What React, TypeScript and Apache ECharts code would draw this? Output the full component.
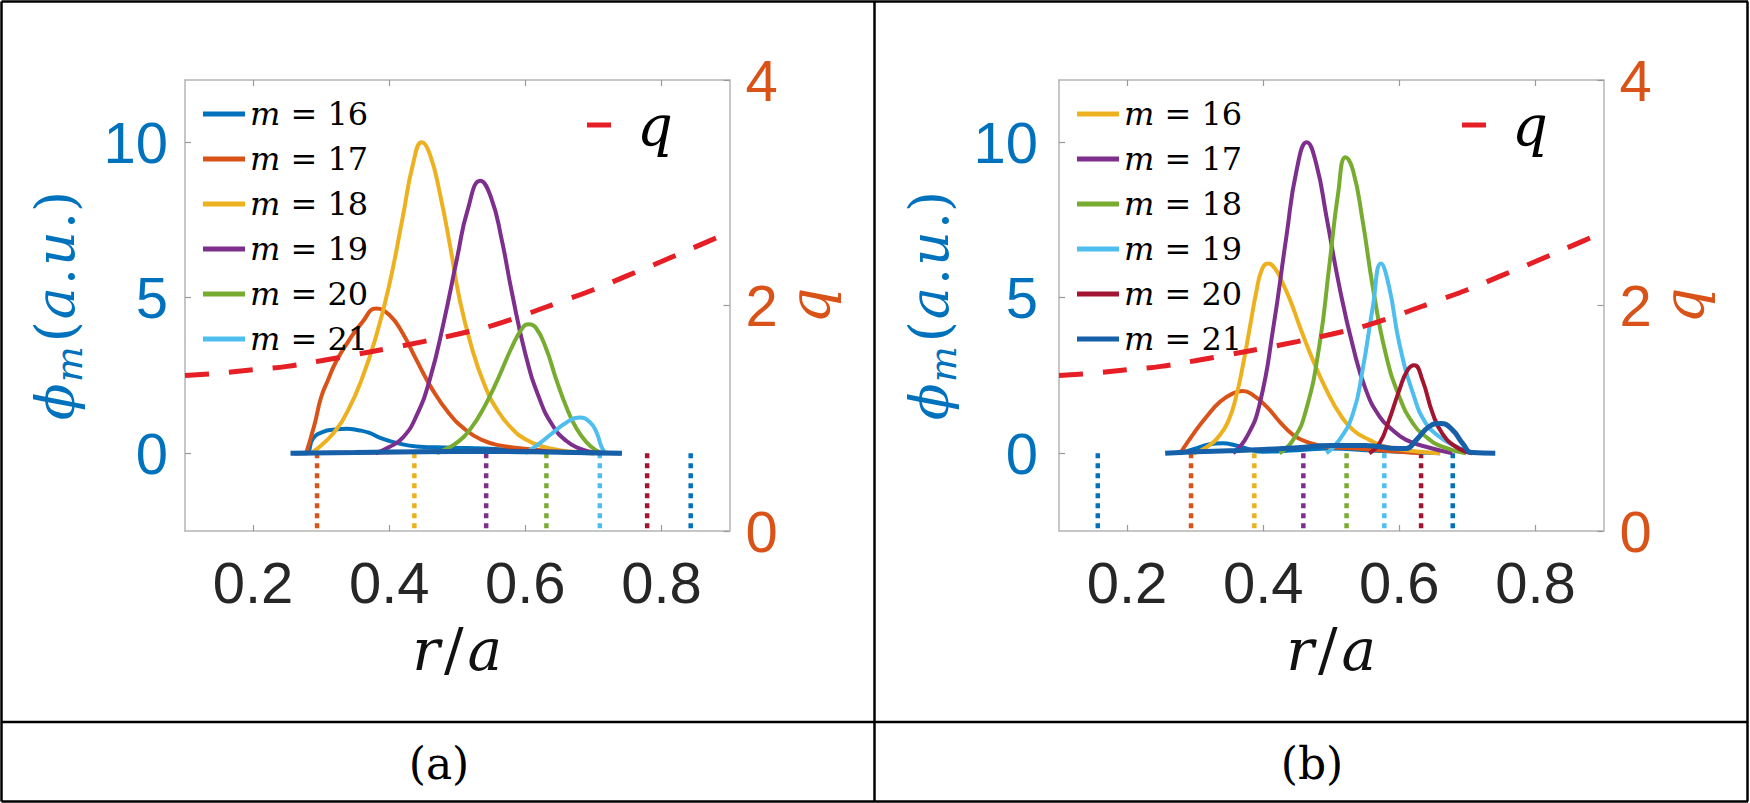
import React, { useEffect, useRef } from "react";
import * as echarts from "echarts";

// ---------- axes ----------
const X_MIN = 0.1;
const X_MAX = 0.9;
const X_TICKS = [0.2, 0.4, 0.6, 0.8];
const PHI_MIN = -2.5;
const PHI_MAX = 12;
const PHI_TICKS = [0, 5, 10];
const Q_MIN = 0;
const Q_MAX = 4;
const Q_INTERVAL = 2;

// ---------- q profile (right axis) ----------
const qProfile = [
  [0.1, 1.38], [0.15, 1.4], [0.2, 1.43], [0.25, 1.46], [0.3, 1.51], [0.35, 1.565],
  [0.4, 1.62], [0.45, 1.68], [0.5, 1.745], [0.55, 1.82], [0.6, 1.92], [0.65, 2.03],
  [0.7, 2.14], [0.75, 2.265], [0.8, 2.39], [0.85, 2.52], [0.9, 2.65],
];

// ---------- panel (a) ----------
const a_m16 = [
  [0.26, 0], [0.278, 0], [0.288, 0.47], [0.303, 0.69], [0.32, 0.76], [0.337, 0.79],
  [0.355, 0.74], [0.37, 0.66], [0.39, 0.47], [0.415, 0.31], [0.44, 0.22], [0.49, 0.18],
  [0.54, 0.15], [0.59, 0.1], [0.64, 0.05], [0.7, 0], [0.74, 0],
];
const a_m17 = [
  [0.278, 0], [0.29, 0.9], [0.3, 1.8], [0.31, 2.35], [0.322, 2.95], [0.34, 3.6],
  [0.36, 4.2], [0.381, 4.65], [0.4, 4.45], [0.42, 3.85], [0.44, 3.0], [0.464, 2.03],
  [0.488, 1.28], [0.513, 0.74], [0.537, 0.42], [0.56, 0.26], [0.61, 0.12], [0.66, 0.04], [0.7, 0],
];
const a_m18 = [
  [0.285, 0], [0.3, 0.25], [0.32, 0.7], [0.34, 1.4], [0.36, 2.4], [0.38, 3.7],
  [0.4, 5.4], [0.42, 7.6], [0.435, 9.3], [0.448, 10.0], [0.46, 9.6], [0.475, 8.3],
  [0.49, 6.6], [0.503, 5.0], [0.52, 3.5], [0.54, 2.2], [0.56, 1.35], [0.58, 0.8],
  [0.6, 0.45], [0.625, 0.22], [0.65, 0.1], [0.68, 0.03], [0.7, 0],
];
const a_m19 = [
  [0.38, 0], [0.4, 0.2], [0.42, 0.5], [0.44, 1.2], [0.46, 2.4], [0.48, 4.2],
  [0.5, 6.3], [0.515, 7.8], [0.534, 8.76], [0.55, 8.2], [0.565, 6.9], [0.58, 5.2],
  [0.6, 3.2], [0.62, 1.8], [0.64, 0.9], [0.66, 0.4], [0.68, 0.15], [0.7, 0.03], [0.71, 0],
];
const a_m20 = [
  [0.47, 0], [0.48, 0.1], [0.5, 0.35], [0.52, 0.8], [0.54, 1.5], [0.56, 2.4],
  [0.58, 3.4], [0.595, 4.0], [0.605, 4.15], [0.615, 4.05], [0.63, 3.4], [0.645, 2.4],
  [0.66, 1.5], [0.675, 0.8], [0.69, 0.35], [0.705, 0.08], [0.715, 0],
];
const a_m21 = [
  [0.6, 0], [0.62, 0.3], [0.64, 0.65], [0.66, 0.98], [0.679, 1.15], [0.695, 1.0],
  [0.705, 0.65], [0.712, 0.2], [0.718, 0],
];
const a_m22 = [[0.26, 0], [0.4, 0.03], [0.55, 0.08], [0.65, 0.05], [0.74, 0]];
const a_m23 = [[0.255, 0], [0.35, 0.02], [0.45, 0.05], [0.55, 0.06], [0.65, 0.03], [0.742, 0]];
const a_rational = [0.294, 0.437, 0.5425, 0.631, 0.7095, 0.779, 0.843];

// ---------- panel (b) ----------
const b_m14 = [
  [0.278, 0], [0.3, 0.15], [0.32, 0.28], [0.34, 0.32], [0.36, 0.25], [0.38, 0.12],
  [0.4, 0.05], [0.45, 0.1], [0.5, 0.15], [0.55, 0.1], [0.6, 0.05], [0.66, 0],
];
const b_m15 = [
  [0.278, 0], [0.298, 0.64], [0.317, 1.18], [0.337, 1.66], [0.356, 1.93], [0.37, 2.0],
  [0.385, 1.87], [0.405, 1.5], [0.424, 1.02], [0.444, 0.59], [0.463, 0.37], [0.493, 0.21],
  [0.532, 0.16], [0.58, 0.08], [0.63, 0],
];
const b_m16 = [
  [0.298, 0], [0.317, 0.2], [0.337, 0.6], [0.35, 1.1], [0.36, 1.8], [0.37, 2.8],
  [0.38, 4.0], [0.39, 5.2], [0.398, 5.9], [0.407, 6.1], [0.417, 5.95], [0.428, 5.5],
  [0.44, 4.9], [0.454, 4.06], [0.473, 3.0], [0.493, 2.03], [0.512, 1.28], [0.532, 0.75],
  [0.556, 0.43], [0.58, 0.21], [0.63, 0.05], [0.66, 0],
];
const b_m17 = [
  [0.356, 0], [0.376, 0.53], [0.395, 1.6], [0.415, 4.06], [0.434, 6.95], [0.449, 9.09],
  [0.464, 10.0], [0.478, 9.3], [0.493, 7.6], [0.512, 5.35], [0.532, 3.42], [0.551, 2.03],
  [0.571, 1.18], [0.59, 0.75], [0.61, 0.43], [0.639, 0.21], [0.678, 0],
];
const b_m18 = [
  [0.424, 0], [0.444, 0.43], [0.463, 1.39], [0.483, 3.53], [0.497, 6.0], [0.51, 8.34],
  [0.521, 9.52], [0.532, 9.09], [0.546, 7.49], [0.561, 5.35], [0.58, 3.2], [0.6, 1.82],
  [0.62, 0.96], [0.639, 0.53], [0.663, 0.21], [0.698, 0],
];
const b_m19 = [
  [0.493, 0], [0.512, 0.43], [0.532, 1.28], [0.546, 2.67], [0.561, 4.7], [0.573, 6.1],
  [0.585, 5.35], [0.6, 3.53], [0.62, 1.93], [0.639, 0.96], [0.659, 0.53], [0.678, 0.27], [0.707, 0],
];
const b_m20 = [
  [0.556, 0], [0.571, 0.32], [0.585, 1.07], [0.6, 2.03], [0.612, 2.67], [0.622, 2.83],
  [0.634, 2.35], [0.649, 1.28], [0.663, 0.64], [0.683, 0.21], [0.707, 0],
];
const b_m21 = [
  [0.256, 0], [0.3, 0.05], [0.35, 0.08], [0.4, 0.12], [0.45, 0.18], [0.5, 0.25],
  [0.55, 0.25], [0.6, 0.15], [0.61, 0.15], [0.625, 0.43], [0.644, 0.86], [0.661, 0.96],
  [0.678, 0.75], [0.693, 0.32], [0.707, 0.02], [0.741, 0],
];
const b_rational = [0.157, 0.294, 0.387, 0.459, 0.5225, 0.578, 0.632, 0.6785];

// ---------- colours ----------
const BLUE = "#0072BD";
const DBLUE = "#1560A8";
const ORANGE = "#D95319";
const YELLOW = "#EDB120";
const PURPLE = "#7E2F8E";
const GREEN = "#77AC30";
const CYAN = "#4DBEEE";
const DRED = "#A2142F";
const QRED = "#E61E25";
const BOX = "#b4b4b4";

const a_rationalColors = [ORANGE, YELLOW, PURPLE, GREEN, CYAN, DRED, BLUE];
const b_rationalColors = [BLUE, ORANGE, YELLOW, PURPLE, GREEN, CYAN, DRED, BLUE];

const SERIF = "DejaVu Serif";
const SANS = "Liberation Sans";

type Curve = { m: number; data: number[][]; color: string; legend: boolean; width?: number };

const panelA: Curve[] = [
  { m: 16, data: a_m16, color: BLUE, legend: true },
  { m: 17, data: a_m17, color: ORANGE, legend: true },
  { m: 18, data: a_m18, color: YELLOW, legend: true },
  { m: 19, data: a_m19, color: PURPLE, legend: true },
  { m: 20, data: a_m20, color: GREEN, legend: true },
  { m: 21, data: a_m21, color: CYAN, legend: true },
  { m: 22, data: a_m22, color: DRED, legend: false },
  { m: 23, data: a_m23, color: DBLUE, legend: false, width: 5 },
];
const panelB: Curve[] = [
  { m: 14, data: b_m14, color: BLUE, legend: false },
  { m: 15, data: b_m15, color: ORANGE, legend: false },
  { m: 16, data: b_m16, color: YELLOW, legend: true },
  { m: 17, data: b_m17, color: PURPLE, legend: true },
  { m: 18, data: b_m18, color: GREEN, legend: true },
  { m: 19, data: b_m19, color: CYAN, legend: true },
  { m: 20, data: b_m20, color: DRED, legend: true },
  { m: 21, data: b_m21, color: DBLUE, legend: true, width: 5 },
];

function buildPanel(
  p: string,
  curves: Curve[],
  rational: number[],
  rationalColors: string[],
  xi: number,
  yl: number,
  yr: number
) {
  const series: any[] = [];
  rational.forEach((x, i) => {
    series.push({
      type: "line",
      name: `${p}:rs${i}`,
      xAxisIndex: xi,
      yAxisIndex: yl,
      data: [[x, 0], [x, PHI_MIN]],
      symbol: "none",
      silent: true,
      lineStyle: { color: rationalColors[i], width: 4.5, type: [5, 5], cap: "butt" },
      itemStyle: { color: rationalColors[i] },
      z: 2,
    });
  });
  curves.forEach((c) => {
    series.push({
      type: "line",
      name: `${p}: m = ${c.m}`,
      xAxisIndex: xi,
      yAxisIndex: yl,
      data: c.data,
      symbol: "none",
      showSymbol: false,
      smooth: 0.5,
      silent: true,
      lineStyle: { color: c.color, width: c.width ?? 4 },
      itemStyle: { color: c.color },
      z: 3,
    });
  });
  series.push({
    type: "line",
    name: `${p}: q`,
    xAxisIndex: xi,
    yAxisIndex: yr,
    data: qProfile,
    symbol: "none",
    showSymbol: false,
    smooth: 0.4,
    silent: true,
    lineStyle: { color: QRED, width: 5, type: [24, 20] },
    itemStyle: { color: QRED },
    z: 4,
  });
  const legendNames = curves.filter((c) => c.legend).map((c) => `${p}: m = ${c.m}`);
  return { series, legendNames };
}

const legendFormatter = (name: string) => {
  const t = name.slice(3);
  if (t === "q") return "{q|q}";
  const num = t.split("= ")[1];
  return "{i|m}{r| = " + num + "}";
};

function xAxes(gridIndex: number) {
  const common = {
    type: "value",
    gridIndex,
    min: X_MIN,
    max: X_MAX,
    splitLine: { show: false },
    axisLine: { show: true, onZero: false, lineStyle: { color: BOX, width: 1.5 } },
    axisTick: { show: true, inside: true, length: 6, customValues: X_TICKS, lineStyle: { color: "#999", width: 1.2 } },
  };
  return [
    {
      ...common,
      position: "bottom",
      axisLabel: {
        show: true,
        customValues: X_TICKS,
        margin: 22,
        color: "#262626",
        fontSize: 58,
        fontFamily: SANS,
        formatter: (v: number) => v.toFixed(1),
      },
      name: "{i|r}{n|/}{i|a}",
      nameLocation: "middle",
      nameGap: 90,
      nameTextStyle: {
        color: "#111",
        fontSize: 58,
        fontFamily: SERIF,
        rich: {
          i: { fontStyle: "italic", fontSize: 58, fontFamily: SERIF, color: "#111" },
          n: { fontSize: 58, fontFamily: SERIF, color: "#111", padding: [0, 4] },
        },
      },
    },
    { ...common, position: "top", axisLabel: { show: false } },
  ];
}

function yAxes(gridIndex: number, leftMargin: number) {
  return [
    {
      type: "value",
      gridIndex,
      position: "left",
      min: PHI_MIN,
      max: PHI_MAX,
      splitLine: { show: false },
      axisLine: { show: true, onZero: false, lineStyle: { color: BOX, width: 1.5 } },
      axisTick: { show: true, inside: true, length: 6, customValues: PHI_TICKS, lineStyle: { color: "#999", width: 1.2 } },
      axisLabel: { show: true, customValues: PHI_TICKS, margin: leftMargin, color: BLUE, fontSize: 58, fontFamily: SANS },
      name: "{i|\u03D5}{s|m}{n|(}{i|a}{n|.}{i|u}{n|.)}",
      nameLocation: "middle",
      nameRotate: 90,
      nameGap: 101,
      nameTextStyle: {
        color: BLUE,
        fontSize: 54,
        fontFamily: SERIF,
        rich: {
          i: { fontStyle: "italic", fontSize: 54, fontFamily: SERIF, color: BLUE, verticalAlign: "top", lineHeight: 56, padding: [0, 1] },
          n: { fontSize: 54, fontFamily: SERIF, color: BLUE, verticalAlign: "top", lineHeight: 56, padding: [0, 1] },
          s: { fontStyle: "italic", fontSize: 38, fontFamily: SERIF, color: BLUE, verticalAlign: "top", lineHeight: 38, padding: [22, 3, 0, 0] },
        },
      },
    },
    {
      type: "value",
      gridIndex,
      position: "right",
      min: Q_MIN,
      max: Q_MAX,
      interval: Q_INTERVAL,
      splitLine: { show: false },
      axisLine: { show: true, onZero: false, lineStyle: { color: BOX, width: 1.5 } },
      axisTick: { show: true, inside: true, length: 6, lineStyle: { color: "#999", width: 1.2 } },
      axisLabel: { show: true, margin: 16, color: ORANGE, fontSize: 58, fontFamily: SANS },
      name: "q",
      nameLocation: "middle",
      nameRotate: 90,
      nameGap: 44,
      nameTextStyle: { color: ORANGE, fontSize: 56, fontFamily: SERIF, fontStyle: "italic" },
    },
  ];
}

function legends(p: string, names: string[], left: number, qLeft: number) {
  const rich = {
    i: { fontStyle: "italic", fontSize: 32, fontFamily: SERIF, color: "#000", lineHeight: 40 },
    r: { fontSize: 32, fontFamily: SERIF, color: "#000", lineHeight: 40 },
    q: { fontStyle: "italic", fontSize: 56, fontFamily: SERIF, color: "#000", lineHeight: 60, padding: [0, 0, 0, 21] },
  };
  return [
    {
      data: names,
      orient: "vertical",
      left,
      top: 94,
      padding: 0,
      itemGap: 5,
      itemWidth: 42,
      itemHeight: 5,
      icon: "rect",
      symbolKeepAspect: false,
      selectedMode: false,
      formatter: legendFormatter,
      textStyle: { fontSize: 32, fontFamily: SERIF, color: "#000", lineHeight: 40, rich },
    },
    {
      data: [`${p}: q`],
      orient: "vertical",
      left: qLeft,
      top: 95,
      padding: 0,
      itemWidth: 24,
      itemHeight: 5,
      icon: "rect",
      symbolKeepAspect: false,
      selectedMode: false,
      formatter: legendFormatter,
      textStyle: { fontSize: 56, fontFamily: SERIF, color: "#000", lineHeight: 60, rich },
    },
  ];
}

export default function App() {
  const ref = useRef<HTMLDivElement>(null);
  useEffect(() => {
    if (!ref.current) return;
    const chart = echarts.init(ref.current, undefined, { renderer: "svg" });
    const A = buildPanel("a", panelA, a_rational, a_rationalColors, 0, 0, 1);
    const B = buildPanel("b", panelB, b_rational, b_rationalColors, 2, 2, 3);
    const line = (x1: number, y1: number, x2: number, y2: number) => ({
      type: "line",
      shape: { x1, y1, x2, y2 },
      style: { stroke: "#000", lineWidth: 2.5 },
      silent: true,
    });
    chart.setOption({
      animation: false,
      backgroundColor: "#fff",
      grid: [
        { left: 185, top: 80, width: 544.5, height: 451 },
        { left: 1059, top: 80, width: 544.5, height: 451 },
      ],
      xAxis: [...xAxes(0), ...xAxes(1)],
      yAxis: [...yAxes(0, 17), ...yAxes(1, 21)],
      legend: [...legends("a", A.legendNames, 203, 587), ...legends("b", B.legendNames, 1077, 1462)],
      series: [...A.series, ...B.series],
      graphic: [
        line(1.5, 1.5, 1748, 1.5),
        line(1.5, 801.5, 1748, 801.5),
        line(1.5, 1.5, 1.5, 801.5),
        line(1747.5, 1.5, 1747.5, 801.5),
        line(874.5, 1.5, 874.5, 801.5),
        line(1.5, 722, 1748, 722),
        {
          type: "text",
          x: 439,
          y: 763,
          style: { text: "(a)", fontSize: 44, fontFamily: "DejaVu Serif", fill: "#000", align: "center", verticalAlign: "middle" },
        },
        {
          type: "text",
          x: 1312,
          y: 763,
          style: { text: "(b)", fontSize: 44, fontFamily: "DejaVu Serif", fill: "#000", align: "center", verticalAlign: "middle" },
        },
      ],
    });
    return () => chart.dispose();
  }, []);
  return (
    <div
      ref={ref}
      style={{ position: "absolute", left: 0, top: 0, width: 1750, height: 803, background: "#fff" }}
    />
  );
}
